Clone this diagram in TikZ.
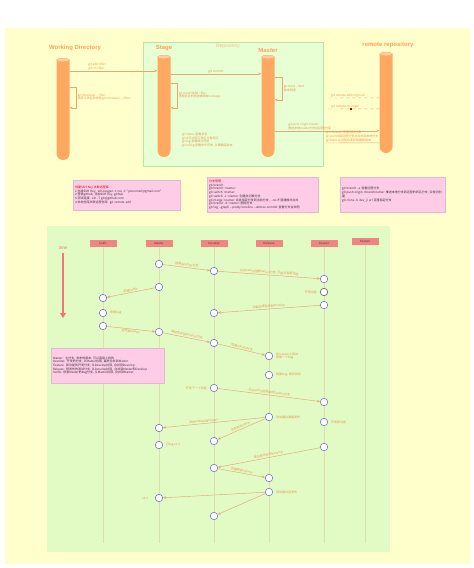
\documentclass[tikz,border=0pt]{standalone}
\usepackage{fontspec}
\setmainfont{Liberation Sans}
\newfontfamily\cjk{Noto Sans CJK SC}
\usetikzlibrary{arrows.meta,positioning,calc}

\definecolor{bgyellow}{RGB}{255,255,204}
\definecolor{repogreen}{RGB}{232,255,212}
\definecolor{seqgreen}{RGB}{226,250,196}
\definecolor{tubeorange}{RGB}{255,168,98}
\definecolor{tuberim}{RGB}{255,208,165}
\definecolor{titleorange}{RGB}{255,160,90}
\definecolor{labelorange}{RGB}{230,150,80}
\definecolor{notepink}{RGB}{255,204,232}
\definecolor{headred}{RGB}{242,132,132}
\definecolor{evtblue}{RGB}{120,120,215}
\definecolor{lifegray}{RGB}{222,222,178}
\definecolor{flowline}{RGB}{226,168,118}
\definecolor{timered}{RGB}{240,120,120}

% one tube: x, top, bottom, name
\newcommand{\gittube}[4]{%
  \fill[tubeorange] (#1-6.5,#2) -- (#1-6.5,#3-6.5) arc[start angle=180, end angle=360, radius=6.5pt] -- (#1+6.5,#2) -- cycle;
  \filldraw[fill=tuberim, draw=tubeorange, line width=0.4pt] (#1,#2) ellipse[x radius=6.5pt, y radius=1.8pt];
  \node[inner sep=0, minimum width=13pt, minimum height={(#3-#2)*1pt}] (#4) at (#1,{(#2+#3)/2}) {};
}

\begin{document}
\begin{tikzpicture}[x=1pt, y=-1pt,
    lbl/.style      = {font=\cjk\fontsize{3}{3.7}\selectfont, text=labelorange, inner sep=0.8pt},
    areatitle/.style= {font=\bfseries\fontsize{6}{7}\selectfont, text=titleorange},
    flow/.style     = {draw=flowline, line width=0.5pt, -{Stealth[length=3pt, width=2.5pt]}},
    notebox/.style  = {fill=notepink, draw=notepink!90!black, line width=0.15pt, align=left, anchor=north west,
                       font=\cjk\fontsize{3}{3.7}\selectfont, text=black!80, inner sep=2pt},
    branchhead/.style = {fill=headred, minimum width=27pt, minimum height=7pt, inner sep=0,
                       font=\fontsize{3}{3.5}\selectfont, text=black!75},
    lifeline/.style = {draw=lifegray, line width=0.5pt},
    evt/.style      = {circle, draw=evtblue, fill=white, line width=0.6pt, minimum size=7.5pt, inner sep=0},
    seqflow/.style  = {flow, line width=0.45pt},
    >=Stealth]

  % page and backgrounds
  \useasboundingbox (0,0) rectangle (474,568);
  \fill[white] (0,0) rectangle (474,568);
  \fill[bgyellow] (5,28) rectangle (470,564);
  \filldraw[fill=repogreen, draw=green!12!repogreen!90!black, line width=0.3pt] (143,42) rectangle (323,166);
  \fill[seqgreen] (47,226) rectangle (390,552);

  % titles
  \node[areatitle] (wdtitle) at (75,48) {Working Directory};
  \node[areatitle] (sttitle) at (164,48) {Stage};
  \node[areatitle] (mstitle) at (268,50) {Master};
  \node[areatitle] (rmtitle) at (388,45) {remote repository};
  \node[font=\fontsize{5}{6}\selectfont, text=titleorange!70] (repotitle) at (228,46) {Repository};

  % tubes
  \gittube{63}{60}{160}{wd}
  \gittube{164}{57}{157}{st}
  \gittube{268}{57}{157}{ms}
  \gittube{386}{54}{153}{rm}

  % working directory -> stage -> master
  \draw[flow] ([yshift=-11pt]wd.north east) -- ([yshift=-14pt]st.north west)
    node[lbl, pos=0.2, above right, align=left] {git add <file>\\git rm <file>};
  \draw[flow] ([yshift=-27pt]wd.north east) -- ++(7,0) |- ([yshift=-48pt]wd.north east)
    node[lbl, pos=0.25, right, align=left] {git checkout -- <file>\\丢弃工作区的修改 git checkout -- <file>};
  \draw[flow] ([yshift=-17pt]st.north east) -- ([yshift=-17pt]ms.north west)
    node[lbl, midway, above] {git commit};
  \draw[flow] ([yshift=-26pt]st.north east) -- ++(7,0) |- ([yshift=-51pt]st.north east)
    node[lbl, pos=0.25, right, align=left] {git reset HEAD <file>\\把暂存区的修改撤销掉 unstage};
  \draw[flow] ([yshift=-20pt]ms.north east) -- ++(8,0) |- ([yshift=-43pt]ms.north east)
    node[lbl, pos=0.25, right, align=left] {git reset --hard\\版本回退};
  \node[lbl, anchor=north west, align=left] (stnote) at (181,132)
    {git status 查看状态\\git diff 比较工作区与暂存区\\git log 查看提交历史\\git reflog 查看命令历史, 以便确定版本};

  % master <-> remote
  \draw[flow] ([yshift=-74pt]ms.north east) -- ([yshift=-77pt]rm.north west)
    node[lbl, pos=0.12, above right, align=left] {git push origin master\\推送本地master分支到远程仓库};
  \coordinate (edgeA) at (325,98);
  \coordinate (edgeB) at (325,109);
  \coordinate (edgeC) at (325,143);
  \draw[draw=flowline, line width=0.4pt, dashed] ([yshift=-44pt]rm.north west) -- (edgeA)
    node[lbl, pos=0.9, above right] {git remote add origin url};
  \draw[draw=flowline, line width=0.4pt, dashed] ([yshift=-55pt]rm.north west) -- (edgeB)
    node[lbl, pos=0.9, above right] {git remote rm origin};
  \node[fill=red!75!black, minimum size=2.5pt, inner sep=0] (rmmark) at (351,109) {};
  \draw[draw=flowline, line width=0.4pt] ([yshift=-89pt]rm.north west) -- (edgeC)
    node[lbl, pos=1, above right, align=left] {git clone url 克隆远程仓库\\git pull 拉取远程分支并合并到本地分支\\git fetch 从远程仓库获取最新版本};

  % notes
  \node[notebox, minimum width=107pt, minimum height=30pt, text width=103pt] (sshnote) at (73,180)
    {{\color{red!80!black}创建SSH Key 关联远程库}\\
     1.生成SSH Key: ssh-keygen -t rsa -C "youremail@gmail.com"\\
     2.登录github, 添加SSH Key, github\\
     3.测试连接: ssh -T git@github.com\\
     4.本地仓库关联远程仓库: git remote add};
  \node[notebox, minimum width=111pt, minimum height=35pt, text width=107pt] (branchnote) at (207,177)
    {{\color{red!80!black}分支管理}\\
     git branch\\
     git branch <name>\\
     git switch <name>\\
     git switch -c <name> 创建并切换分支\\
     git merge <name> 合并指定分支到当前分支, --no-ff 普通模式合并\\
     git branch -d <name> 删除分支\\
     git log --graph --pretty=oneline --abbrev-commit 查看分支合并图};
  \node[notebox, minimum width=105pt, minimum height=35pt, text width=101pt] (remotenote) at (340,177)
    {git branch -a 查看远程分支\\
     git push origin <branchname> 推送本地分支到远程的同名分支, 没有则创\\
     建\\
     git clone -b dev\_jl url 克隆指定分支\\[6pt]};

  % branches of the flow
  \node[branchhead] (hotfix)   at (103,243.5) {hotfix};
  \node[branchhead] (master)   at (159,243.5) {Master};
  \node[branchhead] (develop)  at (214,243.5) {Develop};
  \node[branchhead] (release)  at (269,243.5) {Release};
  \node[branchhead] (feature)  at (324,243.5) {Feature};
  \node[branchhead] (featureb) at (365,241.5) {Feature};
  \foreach \b in {hotfix,master,develop,release,feature,featureb}
    \draw[lifeline] (\b.south) -- (\b.south |- 0,543);

  % time axis
  \node[font=\fontsize{4.5}{5}\selectfont, text=timered] (time) at (63,248) {time};
  \draw[draw=timered, line width=1.4pt, -{Triangle[length=5pt, width=5.5pt]}] (time.south) -- ++(0,65);

  % events
  \foreach \n/\x/\y in {m1/159/264, d1/214/271, f1/324/279, m2/159/287, h1/103/298, f3/324/305,
      h2/103/313, d2/214/313, h3/103/326, m3/159/332, d3/214/343, r1/269/356, r2/269/375,
      d4/214/388, f4/324/402, r3/269/417, f5/324/422, m4/159/428, d5/214/441, m5/159/445,
      f6/324/447, d6/214/468, r4/269/478, r5/269/492, m6/159/498, d7/214/516}
    \node[evt] (\n) at (\x,\y) {};
  \node[evt, draw=black!60] (f2) at (324,292) {};

  % flow between branches
  \draw[seqflow] (m1) -- (d1) node[lbl, midway, above, sloped] {创建develop分支};
  \draw[seqflow] (d1) -- (f1) node[lbl, midway, above, sloped] {从develop创建feature分支, 开始开发新功能};
  \draw[seqflow] (m2) -- (h1) node[lbl, midway, above, sloped] {创建hotfix};
  \draw[seqflow] (f3) -- (d2) node[lbl, midway, above, sloped] {功能完成合并到develop};
  \draw[seqflow] (h3) -- (m3) node[lbl, midway, below, sloped] {合并到master};
  \draw[seqflow] (m3) -- (d3) node[lbl, midway, above, sloped] {同时合并到develop分支};
  \draw[seqflow] (d3) -- (r1) node[lbl, midway, above, sloped] {创建release分支};
  \draw[seqflow] (d4) -- (f4) node[lbl, midway, above, sloped] {从develop拉取新的feature分支};
  \draw[seqflow] (r3) -- (m4) node[lbl, pos=0.6, above, sloped] {合并release到master};
  \draw[seqflow] (r3) -- (d5) node[lbl, midway, above, sloped] {合并到develop};
  \draw[seqflow] (f6) -- (d6) node[lbl, midway, above, sloped] {新功能合并到develop};
  \draw[seqflow] (d6) -- (r4) node[lbl, midway, above, sloped] {创建新的release};
  \draw[seqflow] (r5) -- (m6);
  \draw[seqflow] (r5) -- (d7);

  % notes beside events
  \node[lbl, right=2pt of h2]  (h2note) {修复bug};
  \node[lbl, left=2pt of f2]   (f2note) {开发功能};
  \node[lbl, right=2pt of r1, align=left] (r1note) {在release上测试\\修复一个bug};
  \node[lbl, right=2pt of r2]  (r2note) {修复bug, 再次测试};
  \node[lbl, left=2pt of d4]   (d4note) {开发下一个功能};
  \node[lbl, right=2pt of r3]  (r3note) {测试通过准备发布};
  \node[lbl, right=2pt of f5]  (f5note) {开发新功能};
  \node[lbl, right=2pt of m5]  (m5note) {打tag v1.0};
  \node[lbl, right=2pt of r5]  (r5note) {测试通过后发布};
  \node[lbl, left=6pt of m6]   (m6note) {v2.0};

  % branch notes
  \node[notebox, minimum width=113pt, minimum height=35pt, text width=109pt] (flownote) at (51,348)
    {Master：主分支, 发布的版本, 可以直接上线的\\
     Develop: 开发的分支, 从Master拉取, 最终合并到Master\\
     Feature: 新功能的开发分支, 从Develop拉取, 合并到Develop\\
     Release: 预发布的测试分支, 从Develop拉取, 合并到Master和Develop\\
     hotfix: 修复Master的bug分支, 从Master拉取, 合并到Master};
\end{tikzpicture}
\end{document}
